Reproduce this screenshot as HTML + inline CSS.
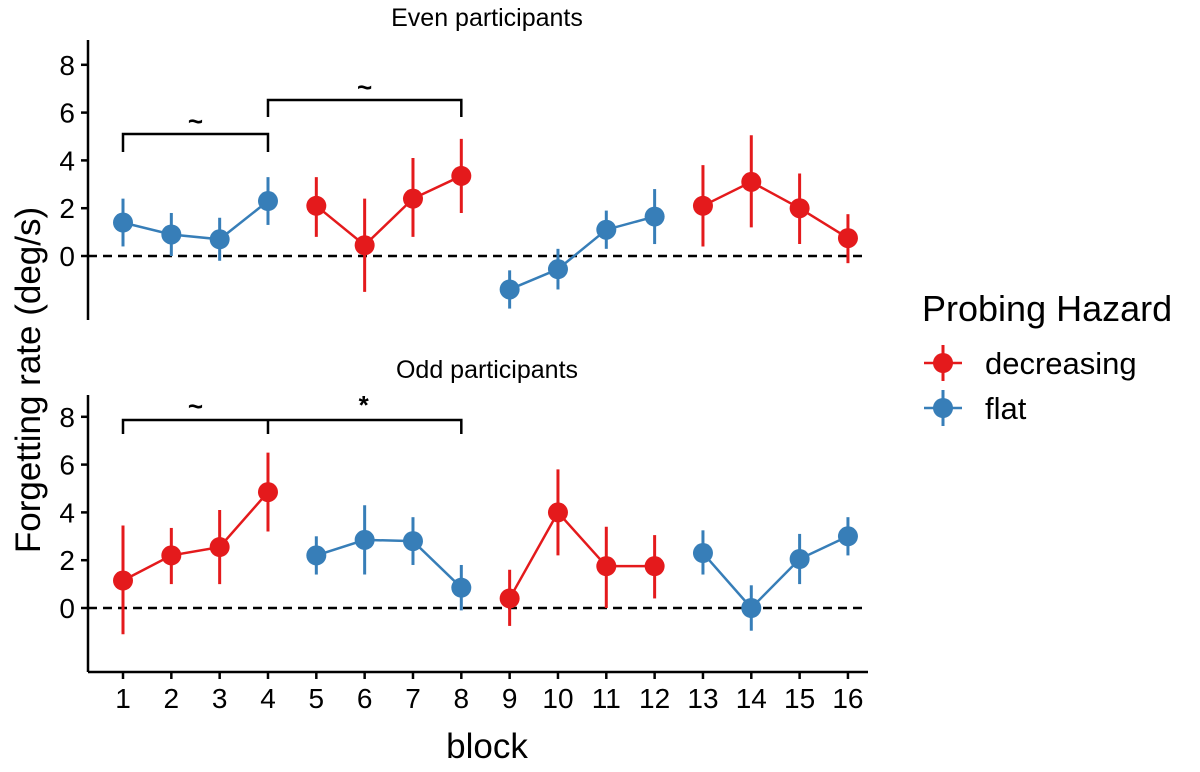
<!DOCTYPE html>
<html><head><meta charset="utf-8"><style>
body{margin:0;background:#fff;font-family:"Liberation Sans",Arial,sans-serif}
svg text{font-family:"Liberation Sans",Arial,sans-serif;fill:#000}
</style></head><body>
<svg id="c" width="1200" height="767" viewBox="0 0 1200 767"></svg>
<script>
const blocks=[1,2,3,4,5,6,7,8,9,10,11,12,13,14,15,16];
const evenMean=[1.4,0.9,0.7,2.3,2.1,0.45,2.4,3.35,-1.4,-0.55,1.1,1.65,2.1,3.1,2.0,0.75];
const evenLo=[0.4,0,-0.2,1.3,0.8,-1.5,0.8,1.8,-2.2,-1.4,0.3,0.5,0.4,1.2,0.5,-0.3];
const evenHi=[2.4,1.8,1.6,3.3,3.3,2.4,4.1,4.9,-0.6,0.3,1.9,2.8,3.8,5.05,3.45,1.75];
const evenCond=["f","f","f","f","d","d","d","d","f","f","f","f","d","d","d","d"];
const oddMean=[1.15,2.2,2.55,4.85,2.2,2.85,2.8,0.85,0.4,4.0,1.75,1.75,2.3,0,2.05,3.0];
const oddLo=[-1.1,1.0,1.0,3.2,1.4,1.4,1.8,-0.1,-0.75,2.2,0,0.4,1.4,-0.95,1.0,2.2];
const oddHi=[3.45,3.35,4.1,6.5,3.0,4.3,3.8,1.8,1.6,5.8,3.4,3.05,3.25,0.95,3.1,3.8];
const oddCond=["d","d","d","d","f","f","f","f","d","d","d","d","f","f","f","f"];
const yTicks=[0,2,4,6,8];
const C={d:"#E41A1C",f:"#377EB8"};
const NS="http://www.w3.org/2000/svg";
const svg=document.getElementById('c');
function el(t,a,p){const e=document.createElementNS(NS,t);for(const k in a)e.setAttribute(k,a[k]);(p||svg).appendChild(e);return e;}
const xs=b=>123+(b-1)*48.33;
function panel(name,y0,top,bot,mean,lo,hi,cond,title,ty){
  const g=el('g',{});
  
  
  const ys=v=>y0-v*23.9;
  const t=el('text',{x:487,y:ty,'font-size':25,'text-anchor':'middle'},g);t.textContent=title;
  
  const ax=el('line',{x1:88,x2:88,y1:top,y2:bot,stroke:'#000','stroke-width':2.5},g);
  
  yTicks.forEach(v=>{el('line',{x1:81,x2:88,y1:ys(v),y2:ys(v),stroke:'#000','stroke-width':2.5},g);
    const l=el('text',{x:75,y:ys(v)+10,'font-size':28,'text-anchor':'end'},g);l.textContent=v;
    });
  const z=el('line',{x1:88,x2:868,y1:ys(0),y2:ys(0),stroke:'#000','stroke-width':2.5,'stroke-dasharray':'9,6'},g);
  
  for(let s=0;s<4;s++){
    const idx=[0,1,2,3].map(i=>s*4+i);
    const col=C[cond[idx[0]]];
    const pl=el('polyline',{points:idx.map(i=>xs(blocks[i])+','+ys(mean[i])).join(' '),fill:'none',stroke:col,'stroke-width':2.5},g);
    
    idx.forEach(i=>{
      const e=el('line',{x1:xs(blocks[i]),x2:xs(blocks[i]),y1:ys(lo[i]),y2:ys(hi[i]),stroke:col,'stroke-width':3},g);
      
      const c=el('circle',{cx:xs(blocks[i]),cy:ys(mean[i]),r:10,fill:col},g);
      
    });
  }
  return ys;
}
panel('even-panel',256,40,320,evenMean,evenLo,evenHi,evenCond,'Even participants',26);
panel('odd-panel',608,395,672,oddMean,oddLo,oddHi,oddCond,'Odd participants',378);
function bracket(a,b,y,d,lab,lx,ly,fs){
  const p=el('path',{d:`M${xs(a)},${y+d}V${y}H${xs(b)}V${y+d}`,fill:'none',stroke:'#000','stroke-width':2.5});
  
  const t=el('text',{x:lx,y:ly,'font-size':fs,'text-anchor':'middle','font-weight':'bold'});t.textContent=lab;
  
}
bracket(1,4,134,18,'~',xs(2.5),130,26);
bracket(4,8,100,17,'~',xs(6),96,26);
bracket(1,8,420,14,'~',xs(2.5),415,26);
el('line',{x1:xs(4),x2:xs(4),y1:420,y2:434,stroke:'#000','stroke-width':2.5});
{const t=el('text',{x:xs(6)-1,y:414,'font-size':26,'text-anchor':'middle','font-weight':'bold'});t.textContent='*';
}
const xa=el('line',{x1:88,x2:868,y1:672,y2:672,stroke:'#000','stroke-width':2.5});

blocks.forEach(b=>{el('line',{x1:xs(b),x2:xs(b),y1:672,y2:679,stroke:'#000','stroke-width':2.5});
  const t=el('text',{x:xs(b),y:708,'font-size':28,'text-anchor':'middle'});t.textContent=b;
  });
{const t=el('text',{x:487,y:758,'font-size':35,'text-anchor':'middle'});t.textContent='block';

const y=el('text',{x:0,y:0,'font-size':35,'text-anchor':'middle',transform:'translate(40,380) rotate(-90)'});y.textContent='Forgetting rate (deg/s)';
}
{const lt=el('text',{x:922,y:321,'font-size':36});lt.textContent='Probing Hazard';

[['decreasing',C.d,363],['flat',C.f,408]].forEach(([n,c,y])=>{
  const g=el('g',{});
  el('line',{x1:924,x2:962,y1:y,y2:y,stroke:c,'stroke-width':2.5},g);
  el('line',{x1:943,x2:943,y1:y-18,y2:y+18,stroke:c,'stroke-width':3},g);
  el('circle',{cx:943,cy:y,r:10,fill:c},g);
  const t=el('text',{x:985,y:y+11,'font-size':31},g);t.textContent=n;});}
</script>
</body></html>
